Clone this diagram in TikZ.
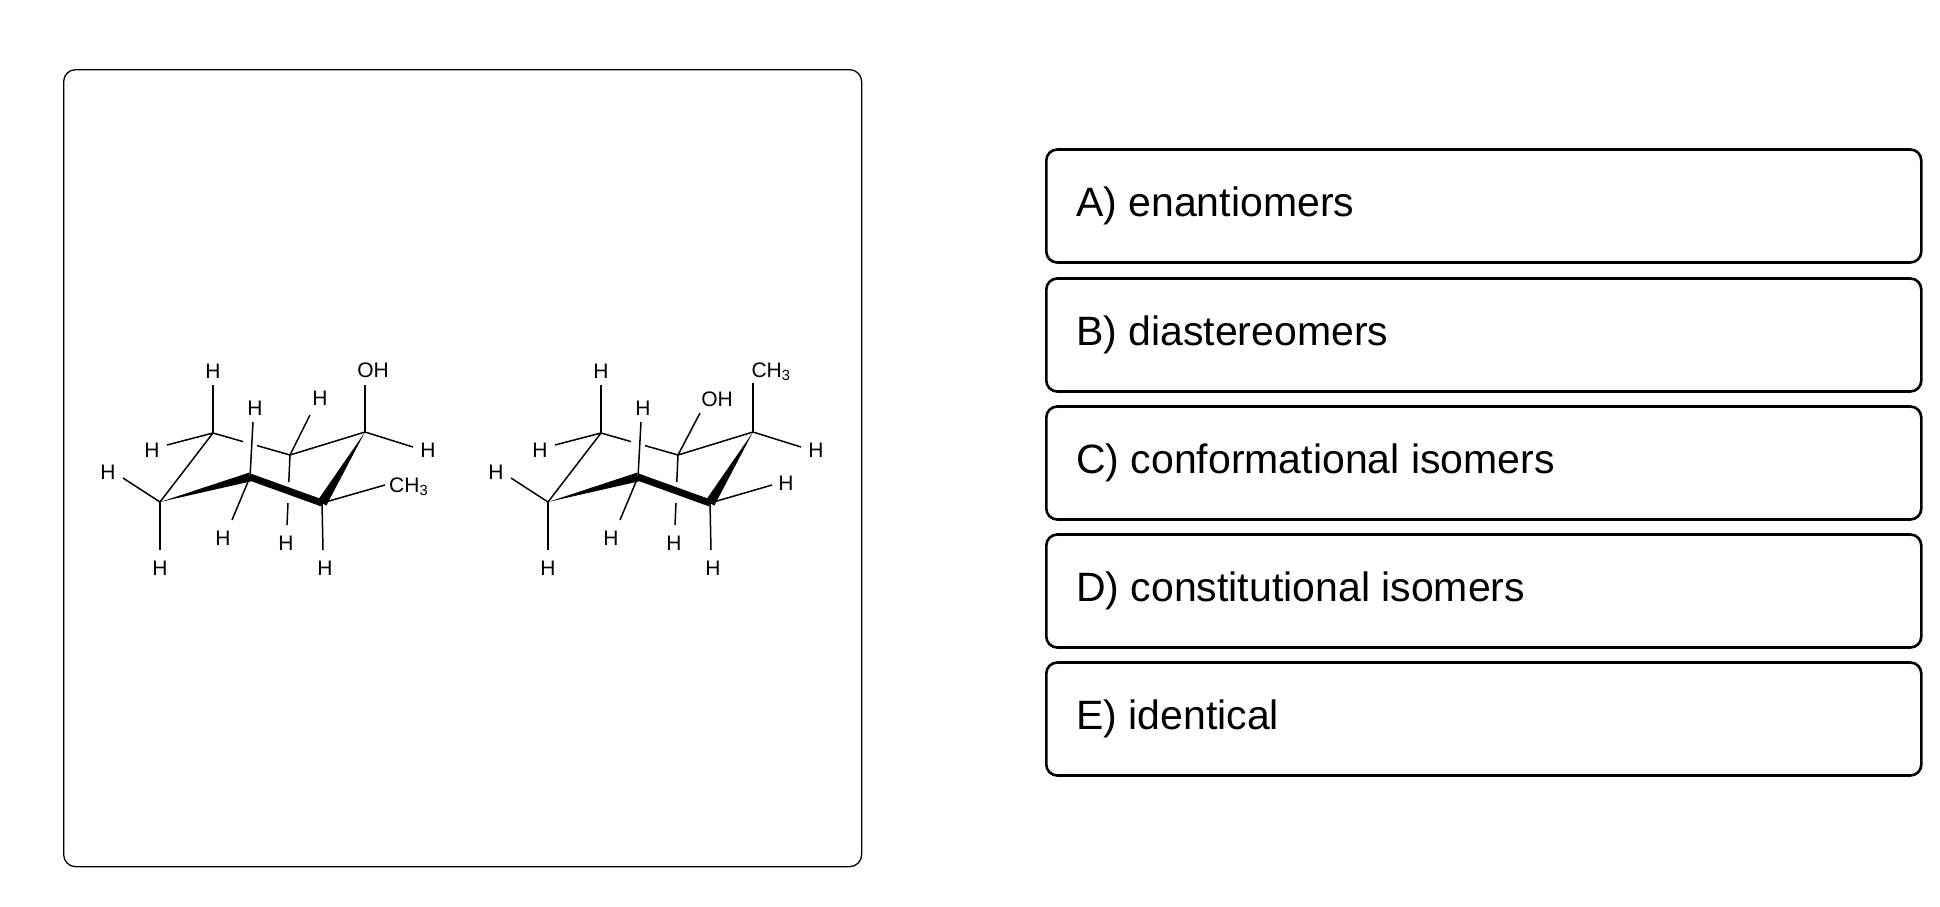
\documentclass[tikz,border=0pt]{standalone}
\usepackage{fontspec}
\setmainfont{Liberation Sans}
\begin{document}
\begin{tikzpicture}[x=1pt,y=-1pt,
  bond/.style={line width=1.5pt},
  atom/.style={font=\fontsize{21}{21}\selectfont, inner sep=0pt},
  optbox/.style={draw, line width=2.6pt, rounded corners=11pt},
  opt/.style={font=\fontsize{41}{41}\selectfont, anchor=west, inner sep=0pt}]
\useasboundingbox (0,0) rectangle (1940,906);
\node[draw, line width=1.3pt, rounded corners=12pt, minimum width=798pt, minimum height=797pt, anchor=north west] (frame) at (63,69) {};
% options
\foreach \t/\y/\n in {A) enantiomers/206/a, B) diastereomers/335/b, C) conformational isomers/463/c, D) constitutional isomers/591/d, E) identical/719/e}{
  \node[optbox, minimum width=875pt, minimum height=113pt, anchor=west] (box\n) at (1045,\y) {};
  \node[opt] (txt\n) at (1076,\y) {\t};
}
% molecules
\foreach \sx/\m in {0/1, 388/2}{
\begin{scope}[xshift=\sx]
  \coordinate (c1\m) at (160,502); \coordinate (c2\m) at (213,433);
  \coordinate (c3\m) at (250,477); \coordinate (c4\m) at (290,455);
  \coordinate (c5\m) at (322,503); \coordinate (c6\m) at (365,432);
  \draw[bond] (c1\m) -- (c2\m);
  \draw[bond] (c2\m) -- (243,441.6) (257,445.6) -- (c4\m);
  \draw[bond] (c4\m) -- (c6\m);
  \fill (c1\m) -- (251.2,481.3) -- (248.8,472.7) -- cycle;
  \draw[line width=7pt] (c3\m) -- (c5\m);
  \fill (c6\m) -- (326.3,505.6) -- (317.7,500.4) -- cycle;
  % H's common
  \draw[bond] (c1\m) -- (160,550); \node[atom] (h1a\m) at (160,568) {H};
  \draw[bond] (c1\m) -- (123,478); \node[atom] (h1e\m) at (108,472) {H};
  \draw[bond] (c2\m) -- (213,385); \node[atom] (h2a\m) at (213,371) {H};
  \draw[bond] (c2\m) -- (167,445); \node[atom] (h2e\m) at (152,450) {H};
  \draw[bond] (c3\m) -- (253,422); \node[atom] (h3a\m) at (255,408) {H};
  \draw[bond] (c3\m) -- (232,520); \node[atom] (h3e\m) at (223,538) {H};
  \draw[bond] (c4\m) -- (288.8,482) (288,503) -- (287,525); \node[atom] (h4a\m) at (286,543) {H};
  \draw[bond] (c5\m) -- (323,550); \node[atom] (h5a\m) at (325,568) {H};
  \draw[bond] (c6\m) -- (413,447); \node[atom] (h6e\m) at (428,450) {H};
\end{scope}}
% molecule 1 specifics
\draw[bond] (c41) -- (310,415); \node[atom] (h4e1) at (320,398) {H};
\draw[bond] (c51) -- (385,485); \node[atom, anchor=west] (me1) at (389,487) {CH\textsubscript{3}};
\draw[bond] (c61) -- (365,385); \node[atom] (oh1) at (373,370) {OH};
% molecule 2 specifics
\draw[bond] (c42) -- (700,413); \node[atom] (oh2) at (717,399) {OH};
\draw[bond] (c52) -- (772,485); \node[atom] (h5e2) at (786,483) {H};
\draw[bond] (c62) -- (753,383); \node[atom] (me2) at (771,372) {CH\textsubscript{3}};
\end{tikzpicture}
\end{document}
